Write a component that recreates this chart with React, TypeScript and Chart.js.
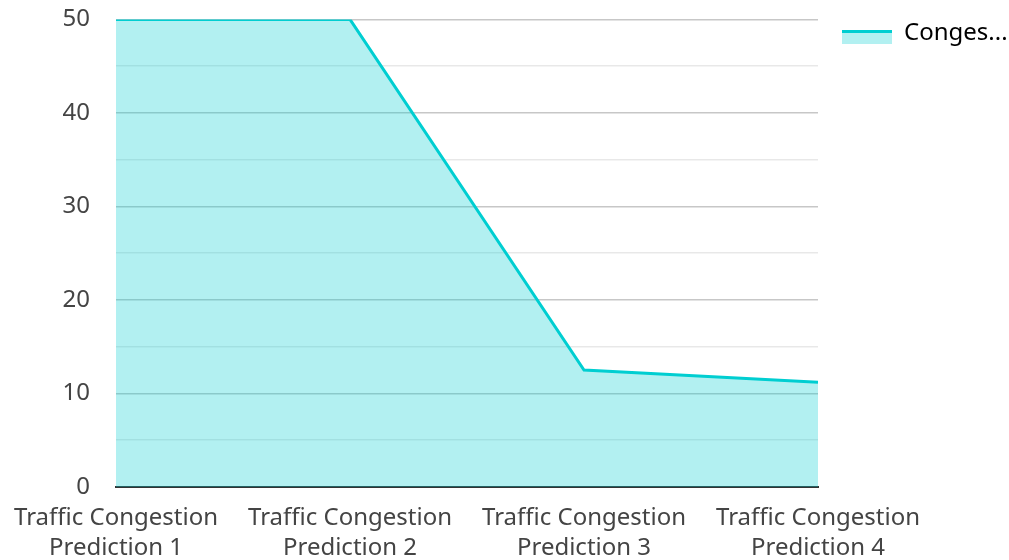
import React, { useEffect, useRef } from "react";
import { Chart, registerables } from "chart.js";

Chart.register(...registerables);

const categories: string[][] = [
  ["Traffic Congestion", "Prediction 1"],
  ["Traffic Congestion", "Prediction 2"],
  ["Traffic Congestion", "Prediction 3"],
  ["Traffic Congestion", "Prediction 4"],
];
const congestionValues: number[] = [50, 50, 12.5, 11.2];
const seriesLabel = "Congestion";
const legendText = "Conges...";
const yMin = 0;
const yMax = 50;
const yStep = 5;

const LINE = "#00CED1";
const FILL = "rgba(0,206,209,0.3)";
const FONT = "'Noto Sans', 'Open Sans', sans-serif";
const FS = 24;

export default function App() {
  const ref = useRef<HTMLCanvasElement | null>(null);
  useEffect(() => {
    if (!ref.current) return;
    const legendLine = {
      id: "legendLine",
      afterDraw(chart: any) {
        const lg = chart.legend;
        if (!lg || !lg.legendHitBoxes || !lg.legendHitBoxes.length) return;
        const hb = lg.legendHitBoxes[0];
        const ctx = chart.ctx;
        const bw = lg.options.labels.boxWidth;
        const c = hb.top + hb.height / 2;
        ctx.save();
        ctx.fillStyle = FILL;
        ctx.fillRect(hb.left, c - 3, bw, 14);
        ctx.strokeStyle = LINE;
        ctx.lineWidth = 3;
        ctx.beginPath();
        ctx.moveTo(hb.left, c - 1.5);
        ctx.lineTo(hb.left + bw, c - 1.5);
        ctx.stroke();
        ctx.restore();
      },
    };
    const chart = new Chart(ref.current, {
      type: "line",
      data: {
        labels: categories,
        datasets: [
          {
            label: seriesLabel,
            data: congestionValues,
            borderColor: LINE,
            backgroundColor: FILL,
            borderWidth: 3,
            fill: "origin",
            pointRadius: 0,
            tension: 0,
          },
        ],
      },
      options: {
        animation: false,
        responsive: true,
        maintainAspectRatio: false,
        layout: { padding: { top: -3, right: 0, left: 0, bottom: 0 } },
        plugins: {
          tooltip: { enabled: false },
          legend: {
            position: "right",
            align: "start",
            maxWidth: 191,
            labels: {
              boxWidth: 50,
              boxHeight: 15,
              padding: 24,
              color: "#333",
              font: { family: FONT, size: FS },
              generateLabels: () => [
                {
                  text: legendText,
                  fillStyle: "rgba(0,0,0,0)",
                  strokeStyle: "rgba(0,0,0,0)",
                  lineWidth: 0,
                  hidden: false,
                  datasetIndex: 0,
                },
              ],
            },
          },
        },
        scales: {
          x: {
            offset: false,
            grid: { display: false, drawTicks: false },
            border: { display: true, color: "#333", width: 2 },
            afterFit: (s: any) => {
              s.paddingLeft = 116;
              s.paddingRight = 191;
              s.height = s.height - 19;
            },
            ticks: {
              color: "#444",
              font: { family: FONT, size: FS, lineHeight: 1.25 },
              maxRotation: 0,
              autoSkip: false,
              padding: 16,
            },
          },
          y: {
            min: yMin,
            max: yMax,
            border: { display: false },
            grid: {
              drawTicks: true,
              tickLength: 21,
              tickColor: "rgba(0,0,0,0)",
              color: (c: any) =>
                c.tick && c.tick.value % 10 === 0 ? "rgba(0,0,0,0.22)" : "rgba(0,0,0,0.09)",
              lineWidth: 1.5,
            },
            ticks: {
              stepSize: yStep,
              color: "#444",
              padding: 5,
              font: { family: FONT, size: FS },
              callback: (v: any) => (Number(v) % 10 === 0 ? String(v) : ""),
            },
          },
        },
      },
      plugins: [legendLine],
    } as any);
    return () => chart.destroy();
  }, []);
  return (
    <div style={{ position: "fixed", left: 0, top: 0, width: 1009, height: 560, background: "#fff" }}>
      <canvas ref={ref} />
    </div>
  );
}
